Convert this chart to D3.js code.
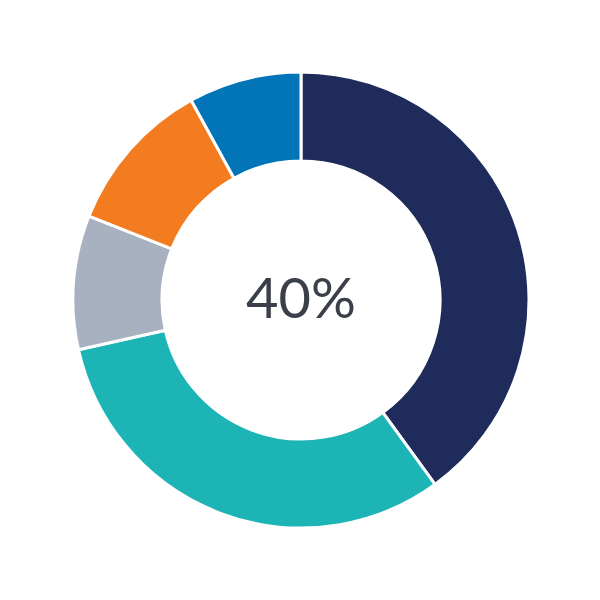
<!DOCTYPE html>
<html><head><meta charset="utf-8">
<script src="https://cdn.jsdelivr.net/npm/d3@7"></script>
<style>body{margin:0;background:#fff}</style>
</head><body>
<svg id="c" width="600" height="600"></svg>
<script>
const categories = ["A", "B", "C", "D", "E"];
const values = [40, 31.5, 9.5, 11, 8];
const colors = ["#1e2b5b", "#1db4b6", "#a7b1c0", "#f37c20", "#0175b7"];
const centerLabel = "40%";

const svg = d3.select("#c");
const g = svg.append("g").attr("transform", "translate(301,300)");
const pie = d3.pie().sort(null).value(d => d)(values);
const arc = d3.arc().innerRadius(139).outerRadius(228);
g.selectAll("path").data(pie).join("path")
  .attr("d", arc)
  .attr("fill", (d, i) => colors[i])
  .attr("stroke", "#fff").attr("stroke-width", 3);
g.append("text").attr("text-anchor", "middle").attr("y", 18)
  .attr("font-family", "Lato, sans-serif").attr("font-size", 56)
  .attr("fill", "#3b3f4a").text(centerLabel);
</script>
</body></html>
